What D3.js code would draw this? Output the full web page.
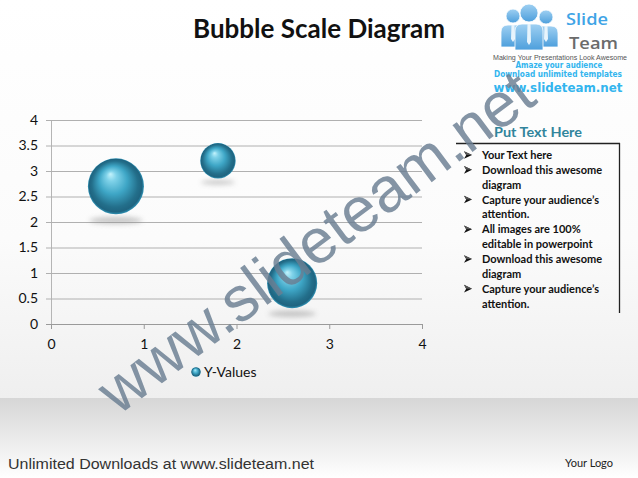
<!DOCTYPE html>
<html>
<head>
<meta charset="utf-8">
<script src="https://cdn.jsdelivr.net/npm/d3@7/dist/d3.min.js"></script>
<style>
  html, body { margin: 0; padding: 0; background: #fff; }
  svg { display: block; }
</style>
</head>
<body>
<svg id="chart" width="638" height="478"></svg>
<script>
// ---- data ----
const seriesName = "Y-Values";
const xValues = [0.7, 1.8, 2.6];
const yValues = [2.7, 3.2, 0.8];
const bubbleSizes = [10, 4, 8];
const xTicks = [0, 1, 2, 3, 4];
const yTicks = [0, 0.5, 1, 1.5, 2, 2.5, 3, 3.5, 4];
const titleText = "Bubble Scale Diagram";
const boxTitle = "Put Text Here";
const bulletItems = [
  ["Your Text here"],
  ["Download this awesome", "diagram"],
  ["Capture your audience\u2019s", "attention."],
  ["All images are 100%", "editable in powerpoint"],
  ["Download this awesome", "diagram"],
  ["Capture your audience\u2019s", "attention."]
];
const footerText = "Unlimited Downloads at www.slideteam.net";
const logoText = "Your Logo";
const watermarkText = "www.slideteam.net";

const points = xValues.map((x, i) => ({ x, y: yValues[i], s: bubbleSizes[i] }));

const svg = d3.select("#chart");
const defs = svg.append("defs");

// background gradients
const bgTop = defs.append("linearGradient").attr("id", "bgTop").attr("x1", 0).attr("y1", 0).attr("x2", 0).attr("y2", 1);
bgTop.append("stop").attr("offset", "0%").attr("stop-color", "#ffffff");
bgTop.append("stop").attr("offset", "60%").attr("stop-color", "#fbfbfb");
bgTop.append("stop").attr("offset", "100%").attr("stop-color", "#efefef");
const bgBot = defs.append("linearGradient").attr("id", "bgBot").attr("x1", 0).attr("y1", 0).attr("x2", 0).attr("y2", 1);
bgBot.append("stop").attr("offset", "0%").attr("stop-color", "#d6d6d6");
bgBot.append("stop").attr("offset", "55%").attr("stop-color", "#ececec");
bgBot.append("stop").attr("offset", "100%").attr("stop-color", "#ffffff");

svg.append("rect").attr("x", 0).attr("y", 0).attr("width", 638).attr("height", 398).attr("fill", "url(#bgTop)");
svg.append("rect").attr("x", 0).attr("y", 398).attr("width", 638).attr("height", 80).attr("fill", "url(#bgBot)");

// bubble gradient
const bg = defs.append("radialGradient").attr("id", "ball")
  .attr("cx", "50%").attr("cy", "50%").attr("r", "50%").attr("fx", "40%").attr("fy", "28%");
bg.append("stop").attr("offset", "0%").attr("stop-color", "#c4f3fc");
bg.append("stop").attr("offset", "18%").attr("stop-color", "#7fd2e9");
bg.append("stop").attr("offset", "50%").attr("stop-color", "#3ea6c6");
bg.append("stop").attr("offset", "82%").attr("stop-color", "#236f8b");
bg.append("stop").attr("offset", "94%").attr("stop-color", "#1f6480");
bg.append("stop").attr("offset", "100%").attr("stop-color", "#2f93b6");

const blur = defs.append("filter").attr("id", "blur").attr("x", "-50%").attr("y", "-200%").attr("width", "200%").attr("height", "500%");
blur.append("feGaussianBlur").attr("stdDeviation", 2.5);

// title
svg.append("text").attr("x", 319).attr("y", 38).attr("text-anchor", "middle")
  .attr("font-family", "Lato, 'Open Sans', sans-serif").attr("font-weight", "bold")
  .attr("font-size", 26).attr("fill", "#111")
  .attr("textLength", 252).attr("lengthAdjust", "spacingAndGlyphs")
  .text(titleText);

// scales
const x = d3.scaleLinear().domain([0, 4]).range([51, 422]);
const y = d3.scaleLinear().domain([0, 4]).range([324, 120]);
const r = d3.scaleSqrt().domain([0, 10]).range([0, 28]);

const plotW = 422 - 51;

// y axis with gridlines
const yAxis = svg.append("g").attr("transform", "translate(51,0)")
  .call(d3.axisLeft(y).tickValues(yTicks).tickSize(5).tickPadding(8).tickFormat(d3.format("~g")));
yAxis.select(".domain").attr("stroke", "#b5b5b5");
yAxis.selectAll(".tick line").attr("x1", -5).attr("x2", plotW).attr("stroke", "#b0b0b0").attr("stroke-width", 1);
yAxis.selectAll(".tick text").attr("font-family", "Lato, sans-serif").attr("font-size", 14).attr("fill", "#111");

// x axis
const xAxis = svg.append("g").attr("transform", "translate(0,324)")
  .call(d3.axisBottom(x).tickValues(xTicks).tickSizeInner(5).tickSizeOuter(0).tickPadding(10).tickFormat(d3.format("~g")));
xAxis.select(".domain").attr("stroke", "#9a9a9a");
xAxis.selectAll(".tick line").attr("stroke", "#9a9a9a");
xAxis.selectAll(".tick text").attr("font-family", "Lato, sans-serif").attr("font-size", 14).attr("fill", "#111");
yAxis.selectAll(".tick").filter(d => d === 0).select("line").attr("stroke", "#9a9a9a");

// bubble shadows
svg.append("g").selectAll("ellipse").data(points).join("ellipse")
  .attr("cx", d => x(d.x))
  .attr("cy", d => y(d.y) + r(d.s) * 1.22)
  .attr("rx", d => r(d.s) * 0.95)
  .attr("ry", d => r(d.s) * 0.13)
  .attr("fill", "#8a8a8a").attr("opacity", 0.45)
  .attr("filter", "url(#blur)");

// bubbles
svg.append("g").selectAll("circle").data(points).join("circle")
  .attr("cx", d => x(d.x))
  .attr("cy", d => y(d.y))
  .attr("r", d => r(d.s))
  .attr("fill", "url(#ball)");

// legend
const lg = svg.append("g").attr("transform", "translate(196,372)");
lg.append("circle").attr("r", 4.8).attr("fill", "url(#ball)");
lg.append("text").attr("x", 8).attr("y", 4.5)
  .attr("font-family", "Lato, sans-serif").attr("font-size", 14).attr("fill", "#111")
  .text(seriesName);

// text box
svg.append("text").attr("x", 538).attr("y", 137).attr("text-anchor", "middle")
  .attr("font-family", "Lato, sans-serif").attr("font-weight", "bold").attr("font-size", 14)
  .attr("fill", "#31859c").attr("textLength", 88).attr("lengthAdjust", "spacingAndGlyphs")
  .text(boxTitle);
svg.append("line").attr("x1", 456).attr("x2", 620).attr("y1", 143.5).attr("y2", 143.5)
  .attr("stroke", "#222").attr("stroke-width", 1.3);
svg.append("line").attr("x1", 619.5).attr("x2", 619.5).attr("y1", 143).attr("y2", 313)
  .attr("stroke", "#222").attr("stroke-width", 1.3);

const lineH = 14.85;
let lineIdx = 0;
const bullets = svg.append("g");
bulletItems.forEach(item => {
  const by = 155 + lineIdx * lineH;
  const b = bullets.append("g").attr("transform", `translate(464,${by})`);
  b.append("path").attr("d", "M0,-3.8 L8,0 L0,3.8 L2.2,0 Z").attr("fill", "#111");
  b.append("path").attr("d", "M0,-3.8 L8,0 L2.2,0 Z").attr("fill", "#555");
  item.forEach((ln, j) => {
    bullets.append("text").attr("x", 482).attr("y", 159 + (lineIdx + j) * lineH)
      .attr("font-family", "Lato, sans-serif").attr("font-weight", "bold").attr("font-size", 11)
      .attr("fill", "#111").text(ln);
  });
  lineIdx += item.length;
});

// logo (top right)
const logo = svg.append("g");
const pg = defs.append("linearGradient").attr("id", "ppl").attr("x1", 0).attr("y1", 0).attr("x2", 0).attr("y2", 1);
pg.append("stop").attr("offset", "0%").attr("stop-color", "#9fd0f2");
pg.append("stop").attr("offset", "100%").attr("stop-color", "#4d9fdc");
const people = [
  { cx: 513, hy: 16, hr: 7, bw: 24, top: 25, bot: 47 },
  { cx: 546, hy: 17, hr: 7, bw: 24, top: 26, bot: 47 },
  { cx: 529, hy: 13, hr: 9, bw: 28, top: 24, bot: 50 }
];
people.forEach(p => {
  logo.append("path")
    .attr("d", `M${p.cx - p.bw / 2},${p.bot} L${p.cx - p.bw / 2},${p.top + 7} Q${p.cx - p.bw / 2},${p.top} ${p.cx - p.bw / 2 + 7},${p.top} L${p.cx + p.bw / 2 - 7},${p.top} Q${p.cx + p.bw / 2},${p.top} ${p.cx + p.bw / 2},${p.top + 7} L${p.cx + p.bw / 2},${p.bot} Z`)
    .attr("fill", "url(#ppl)").attr("stroke", "#fff").attr("stroke-width", 0.8);
  logo.append("path")
    .attr("d", `M${p.cx - 1.5},${p.top} L${p.cx + 1.5},${p.top} L${p.cx + 2},${p.bot - 8} L${p.cx},${p.bot - 5} L${p.cx - 2},${p.bot - 8} Z`)
    .attr("fill", "#e8f4fc");
  logo.append("circle").attr("cx", p.cx).attr("cy", p.hy).attr("r", p.hr)
    .attr("fill", "url(#ppl)").attr("stroke", "#fff").attr("stroke-width", 0.8);
});
logo.append("text").attr("x", 566).attr("y", 25).attr("font-family", "'Open Sans', sans-serif")
  .attr("font-weight", "600").attr("font-size", 17).attr("fill", "#3fa4e6")
  .attr("textLength", 42).attr("lengthAdjust", "spacingAndGlyphs").text("Slide");
logo.append("text").attr("x", 569).attr("y", 48.5).attr("font-family", "'Open Sans', sans-serif")
  .attr("font-weight", "600").attr("font-size", 17).attr("fill", "#6b6b6b")
  .attr("textLength", 49).attr("lengthAdjust", "spacingAndGlyphs").text("Team");
logo.append("text").attr("x", 560).attr("y", 59.5).attr("text-anchor", "middle")
  .attr("font-family", "'Liberation Sans', sans-serif").attr("font-size", 6.5).attr("fill", "#555")
  .attr("textLength", 134).attr("lengthAdjust", "spacingAndGlyphs")
  .text("Making Your Presentations Look Awesome");
logo.append("text").attr("x", 559).attr("y", 68).attr("text-anchor", "middle")
  .attr("font-family", "'DejaVu Sans', sans-serif").attr("font-weight", "bold").attr("font-size", 8)
  .attr("fill", "#33b5ee").attr("textLength", 87).attr("lengthAdjust", "spacingAndGlyphs")
  .text("Amaze your audience");
logo.append("text").attr("x", 558).attr("y", 77).attr("text-anchor", "middle")
  .attr("font-family", "'DejaVu Sans', sans-serif").attr("font-weight", "bold").attr("font-size", 8)
  .attr("fill", "#33b5ee").attr("textLength", 128).attr("lengthAdjust", "spacingAndGlyphs")
  .text("Download unlimited templates");
logo.append("text").attr("x", 558).attr("y", 92).attr("text-anchor", "middle")
  .attr("font-family", "'DejaVu Sans', sans-serif").attr("font-weight", "bold").attr("font-size", 13)
  .attr("fill", "#33b5ee").attr("textLength", 129).attr("lengthAdjust", "spacingAndGlyphs")
  .text("www.slideteam.net");

// footer
svg.append("text").attr("x", 8).attr("y", 469)
  .attr("font-family", "'Liberation Sans', Arial, sans-serif").attr("font-size", 15.5).attr("fill", "#333")
  .attr("textLength", 306).attr("lengthAdjust", "spacingAndGlyphs")
  .text(footerText);
svg.append("text").attr("x", 589).attr("y", 467).attr("text-anchor", "middle")
  .attr("font-family", "Lato, sans-serif").attr("font-size", 11).attr("fill", "#222")
  .text(logoText);

// watermark
svg.append("text")
  .attr("transform", "translate(118,416) rotate(-36.7)")
  .attr("font-family", "'Liberation Sans', Arial, sans-serif").attr("font-size", 63)
  .attr("fill", "#6a7e92").attr("opacity", 0.82)
  .text(watermarkText);
</script>
</body>
</html>
